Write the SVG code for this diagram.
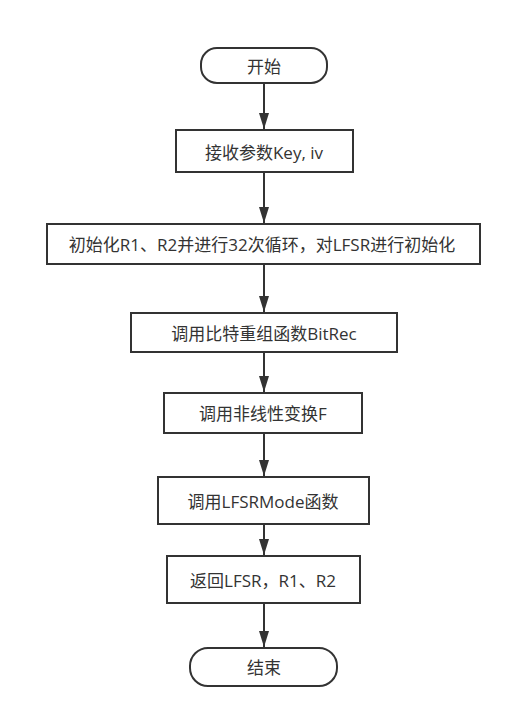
<svg xmlns="http://www.w3.org/2000/svg" width="511" height="719" viewBox="0 0 511 719">
<style>
.n{fill:#fff;stroke:#333;stroke-width:2}
.t{font-family:"Open Sans","Noto Sans CJK SC",sans-serif;font-size:17px;fill:#333;text-anchor:middle;dominant-baseline:central}
.c{stroke:#333;stroke-width:2;fill:none;marker-end:url(#a)}
</style>
<defs>
<marker id="a" markerWidth="16" markerHeight="10" refX="16" refY="5" orient="auto" markerUnits="userSpaceOnUse" viewBox="0 0 16 10">
<path d="M0,0 L16,5 L0,10 Z" fill="#333"/>
</marker>
</defs>
<rect width="511" height="719" fill="#fff"/>
<g id="connectors">
<line class="c" x1="264" y1="83" x2="264" y2="129"/>
<line class="c" x1="264" y1="172" x2="264" y2="223"/>
<line class="c" x1="264" y1="264" x2="264" y2="312"/>
<line class="c" x1="264" y1="352" x2="264" y2="392"/>
<line class="c" x1="264" y1="433" x2="264" y2="476"/>
<line class="c" x1="264" y1="524" x2="264" y2="555"/>
<line class="c" x1="264" y1="603" x2="264" y2="647"/>
</g>
<g id="start"><rect class="n" x="201" y="48" width="126" height="35" rx="16"/><text class="t" x="264" y="66">开始</text></g>
<g id="n1"><rect class="n" x="176" y="130" width="177" height="42"/><text class="t" x="264" y="152">接收参数Key, iv</text></g>
<g id="n2"><rect class="n" x="47" y="224" width="433" height="40"/><text class="t" x="262" y="244">初始化R1、R2并进行32次循环，对LFSR进行初始化</text></g>
<g id="n3"><rect class="n" x="131" y="313" width="266" height="39"/><text class="t" x="264" y="333">调用比特重组函数BitRec</text></g>
<g id="n4"><rect class="n" x="164" y="393" width="198" height="40"/><text class="t" x="263" y="413">调用非线性变换F</text></g>
<g id="n5"><rect class="n" x="158" y="477" width="211" height="47"/><text class="t" x="263" y="501">调用LFSRMode函数</text></g>
<g id="n6"><rect class="n" x="167" y="556" width="193" height="47"/><text class="t" x="263" y="580">返回LFSR，R1、R2</text></g>
<g id="end"><rect class="n" x="190" y="648" width="147" height="38" rx="18"/><text class="t" x="264" y="667">结束</text></g>
</svg>
